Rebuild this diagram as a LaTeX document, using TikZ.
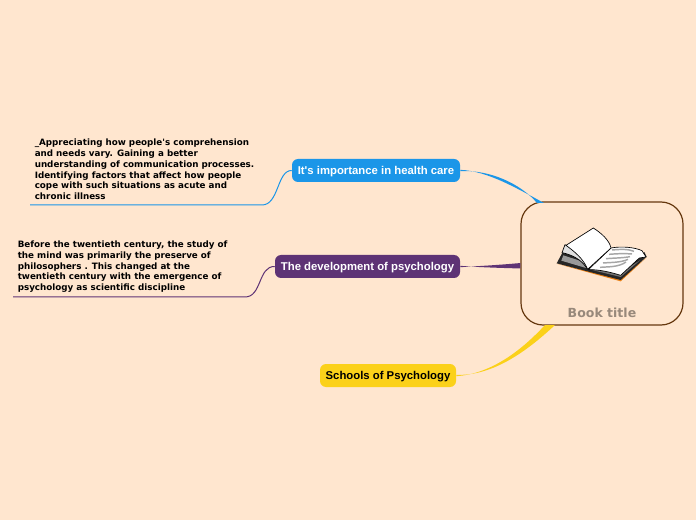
\documentclass[tikz,border=0pt]{standalone}
\usepackage{fontspec}
\setmainfont{DejaVu Sans}
\newfontfamily\labelfont{Liberation Sans}
\definecolor{paper}{HTML}{FFE6CF}
\definecolor{bluebranch}{HTML}{1B96E8}
\definecolor{purplebranch}{HTML}{5E3375}
\definecolor{yellowbranch}{HTML}{FBD11A}
\definecolor{rootline}{HTML}{66380F}
\definecolor{titlegrey}{HTML}{98897B}
\tikzstyle{topic} = [rectangle, rounded corners=4.5, minimum height=17.25pt, inner sep=0pt, text centered, text height=6.1pt, text depth=0pt, font=\labelfont\bfseries\fontsize{8.5pt}{10pt}\selectfont]
\tikzstyle{note} = [inner sep=0pt, align=left, anchor=north west, text=black, font=\bfseries\fontsize{6.57pt}{8.05pt}\selectfont]
\tikzstyle{page} = [draw=black, line width=0.5pt, fill=white, line join=round]
\begin{document}
\begin{tikzpicture}[x=0.75pt, y=-0.75pt]
        \useasboundingbox (0,0) rectangle (696,520);
        \fill [paper] (0,0) rectangle (696,520);

        \node (root) [rectangle, rounded corners=16.5pt, minimum width=121.5pt, minimum height=92.25pt, draw=rootline, line width=0.9pt, inner sep=0pt] at (602,263.5) {};
        \node (root_title) [font=\bfseries\fontsize{9.4pt}{11pt}\selectfont, text=titlegrey, inner sep=0pt] at (602,312.5) {Book title};

        \node (health) [topic, fill=bluebranch, text=white, minimum width=126pt] at (376,170.5) {It\textquotesingle s importance in health care};
        \node (history) [topic, fill=purplebranch, text=white, minimum width=138.75pt] at (367.5,266.5) {The development of psychology};
        \node (schools) [topic, fill=yellowbranch, text=black, minimum width=102pt] at (388,375.5) {Schools of Psychology};

        \node (health_note) [note] at (34.5,139) {\_Appreciating how people\textquotesingle s comprehension\\and needs vary. Gaining a better\\understanding of communication processes.\\Identifying factors that affect how people\\cope with such situations as acute and\\chronic illness};
        \node (history_note) [note] at (17.5,240.8) {Before the twentieth century, the study of\\the mind was primarily the preserve of\\philosophers . This changed at the\\twentieth century with the emergence of\\psychology as scientific discipline};

        \coordinate (health_end) at (30,205);
        \coordinate (history_end) at (13,297);
        \coordinate (root_nw) at (544,203);
        \coordinate (root_sw) at (555,325);

        % tapered branches
        \fill [bluebranch] ([yshift=-0.5]health.east) .. controls (490,169.5) and (521,184) .. (537,203) -- (root_nw) .. controls (518,189) and (488,171) .. ([yshift=0.5]health.east) -- cycle;
        \fill [purplebranch] ([yshift=-0.5]history.east) .. controls (482,266) and (505,264.5) .. (root.west |- 0,263) -- (root.west |- 0,268.5) .. controls (505,268) and (482,267.5) .. ([yshift=0.5]history.east) -- cycle;
        \fill [yellowbranch] ([yshift=-0.5]schools.east) .. controls (490,374) and (520,352) .. (545,325) -- (root_sw) .. controls (524,354) and (491,376) .. ([yshift=0.5]schools.east) -- cycle;

        % note lines
        \draw [bluebranch, line width=0.75pt] (health.west) .. controls (277,170) and (279,205) .. (262,205) -- (health_end);
        \draw [purplebranch, line width=0.75pt] (history.west) .. controls (258,266) and (262,297) .. (245,297) -- (history_end);

        % book
        \begin{scope}[shift={(550,222)}, scale=1/3]
            \fill [orange!65!brown] (20,125) -- (212,178) -- (290,106) -- (212,170) -- cycle;
            \fill [black!85] (48,72) -- (20,124) -- (212,174) -- (290,104) -- (283,90) -- (215,158) -- (118,140) -- (100,110) -- cycle;
            \fill [black!40] (40,100) -- (34,116) -- (108,138) -- (95,118) -- cycle;
            \fill [black!55] (118,142) -- (212,165) -- (270,115) -- (215,150) -- cycle;
            \draw [page, fill=black!12] (45,68) -- (36,92) .. controls (65,98) and (95,112) .. (113,142) -- (100,100) -- cycle;
            \draw [page] (115,143) -- (183,78) .. controls (215,72) and (255,76) .. (276,86) -- (288,105) -- (268,108) -- (212,160) .. controls (180,150) and (145,142) .. (115,143) -- cycle;
            \draw [page] (48,70) -- (130,18) .. controls (155,34) and (178,55) .. (183,78) -- (113,142) .. controls (100,110) and (75,90) .. (48,70) -- cycle;
            \foreach \yy in {0,1,2,3,4} {
                \draw [black!35, line width=1.1pt] (150+\yy*9,136-\yy*13) .. controls (175+\yy*9,134-\yy*13) and (205+\yy*7,136-\yy*14) .. (228+\yy*6,120-\yy*8);
            }
        \end{scope}
    \end{tikzpicture}
\end{document}
